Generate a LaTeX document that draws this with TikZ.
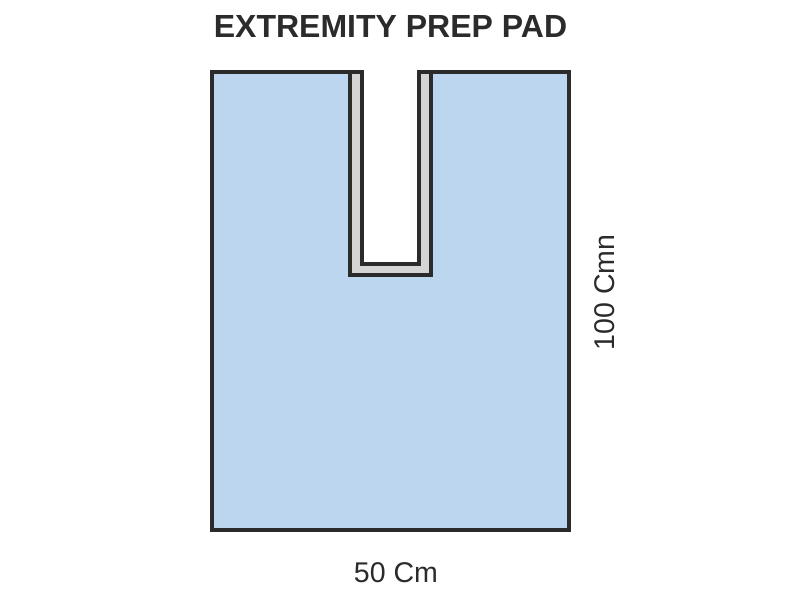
\documentclass[tikz,border=0pt]{standalone}
\usepackage{fontspec}
\setmainfont{Liberation Sans}
\definecolor{padblue}{HTML}{BCD6F0}
\definecolor{padgray}{HTML}{D4D4D4}
\definecolor{padline}{HTML}{2B2B2B}
\begin{document}
\begin{tikzpicture}[x=0.75pt,y=-0.75pt]
        \tikzstyle{heading}=[font=\fontsize{24}{28}\selectfont\bfseries,text=padline,inner sep=0pt]
        \tikzstyle{dimtext}=[font=\fontsize{21.4}{25}\selectfont,text=padline,inner sep=0pt]
        \tikzstyle{outline}=[draw=padline,line width=2.3pt,line join=miter]
        \useasboundingbox (0,0) rectangle (800,600);
       \begin{scope}
         % pad with slot cut out
         \path[outline,fill=padblue] (212,72) -- (350,72) -- (350,275) -- (431,275)
              -- (431,72) -- (569,72) -- (569,530) -- (212,530) -- cycle;
         % reinforced band round the slot
         \path[outline,fill=padgray] (350,72) -- (350,275) -- (431,275) -- (431,72)
              -- (419,72) -- (419,264) -- (362,264) -- (362,72) -- cycle;
         \node [heading] (title) at (390.5,26.5) {EXTREMITY PREP PAD};
         \node [dimtext] (width) at (396,572.5) {50 Cm};
         \node [dimtext,rotate=90] (height) at (604.5,292.5) {100 Cmn};
        \end{scope}
      \end{tikzpicture}
\end{document}
